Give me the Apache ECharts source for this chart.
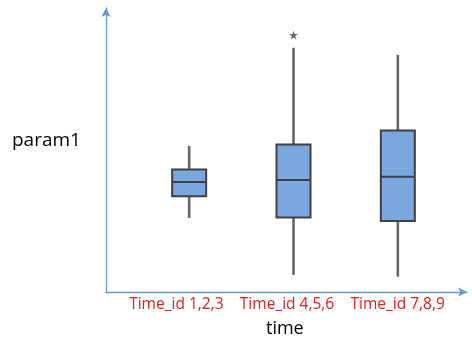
<!DOCTYPE html>
<html>
<head>
<meta charset="utf-8">
<script src="https://cdn.jsdelivr.net/npm/echarts@6/dist/echarts.min.js"></script>
<style>html,body{margin:0;padding:0;background:#fff;}#c{width:472px;height:349px;}</style>
</head>
<body>
<div id="c"></div>
<script>
// Categories and values (arbitrary units, 0 at x axis, 100 at top of y axis)
const categories = ['Time_id 1,2,3', 'Time_id 4,5,6', 'Time_id 7,8,9'];
const lowWhisker = [26.1, 6.0, 5.4];
const q1 = [33.7, 26.2, 25.0];
const median = [38.7, 39.4, 40.6];
const q3 = [43.1, 51.9, 56.9];
const highWhisker = [51.4, 86.0, 83.5];
const outliers = [[1, 90.5]];
const yName = 'param1';
const xName = 'time';

const boxData = categories.map((c, i) => [i, lowWhisker[i], q1[i], median[i], q3[i], highWhisker[i]]);

const chart = echarts.init(document.getElementById('c'));
const font = '"Open Sans", "Noto Sans", sans-serif';
const axisBlue = '#6a98d0';
const BOX_W = 34;

function renderBox(params, api) {
  const x = api.value(0);
  const pLow = api.coord([x, api.value(1)]);
  const pQ1 = api.coord([x, api.value(2)]);
  const pMed = api.coord([x, api.value(3)]);
  const pQ3 = api.coord([x, api.value(4)]);
  const pHigh = api.coord([x, api.value(5)]);
  const cx = pMed[0];
  const half = BOX_W / 2;
  const whisker = { stroke: '#666666', lineWidth: 2.6 };
  const border = { stroke: '#404040', lineWidth: 2 };
  return {
    type: 'group',
    children: [
      { type: 'line', shape: { x1: cx, y1: pHigh[1], x2: cx, y2: pQ3[1] }, style: whisker },
      { type: 'line', shape: { x1: cx, y1: pQ1[1], x2: cx, y2: pLow[1] }, style: whisker },
      { type: 'rect', shape: { x: cx - half, y: pQ3[1], width: BOX_W, height: pQ1[1] - pQ3[1] },
        style: { fill: '#7aa7dd', stroke: border.stroke, lineWidth: border.lineWidth } },
      { type: 'line', shape: { x1: cx - half, y1: pMed[1], x2: cx + half, y2: pMed[1] }, style: border }
    ]
  };
}

chart.setOption({
  animation: false,
  backgroundColor: '#fff',
  grid: [
    { left: 137, right: 22, top: 8, bottom: 57 },   // data
    { left: 106, right: 5, top: 8, bottom: 57 },    // axis lines
    { left: 121, right: 19, top: 8, bottom: 57 }    // category labels
  ],
  xAxis: [
    { gridIndex: 0, type: 'category', data: categories, boundaryGap: true,
      axisLine: { show: false }, axisTick: { show: false }, axisLabel: { show: false }, splitLine: { show: false } },
    { gridIndex: 1, type: 'value', min: 0, max: 1,
      axisLine: { show: true, lineStyle: { color: axisBlue, width: 1.3 }, symbol: ['none', 'arrow'], symbolSize: [7, 9] },
      axisTick: { show: false }, axisLabel: { show: false }, splitLine: { show: false } },
    { gridIndex: 2, type: 'category', data: categories, boundaryGap: true,
      axisLine: { show: false }, axisTick: { show: false }, splitLine: { show: false },
      axisLabel: { show: true, color: '#e41c1c', fontFamily: font, fontSize: 15.5, margin: 5, interval: 0 } }
  ],
  yAxis: [
    { gridIndex: 0, type: 'value', min: 0, max: 100,
      axisLine: { show: false }, axisTick: { show: false }, axisLabel: { show: false }, splitLine: { show: false } },
    { gridIndex: 1, type: 'value', min: 0, max: 1,
      axisLine: { show: true, lineStyle: { color: axisBlue, width: 1.3 }, symbol: ['none', 'arrow'], symbolSize: [7, 9] },
      axisTick: { show: false }, axisLabel: { show: false }, splitLine: { show: false } },
    { gridIndex: 2, type: 'value', min: 0, max: 1, show: false }
  ],
  graphic: [
    { type: 'text', left: 12, top: 131, style: { text: yName, font: '19px ' + font, fill: '#000' } },
    { type: 'text', left: 266, top: 320, style: { text: xName, font: '18px ' + font, fill: '#000' } }
  ],
  series: [
    {
      type: 'custom', xAxisIndex: 0, yAxisIndex: 0,
      data: boxData,
      encode: { x: 0, y: [1, 2, 3, 4, 5] },
      renderItem: renderBox
    },
    {
      type: 'scatter', xAxisIndex: 0, yAxisIndex: 0,
      data: outliers,
      symbol: 'path://M50,0 L61,35 L98,35 L68,57 L79,91 L50,70 L21,91 L32,57 L2,35 L39,35 Z',
      symbolSize: 9,
      itemStyle: { color: '#404040' }
    }
  ]
});
</script>
</body>
</html>
